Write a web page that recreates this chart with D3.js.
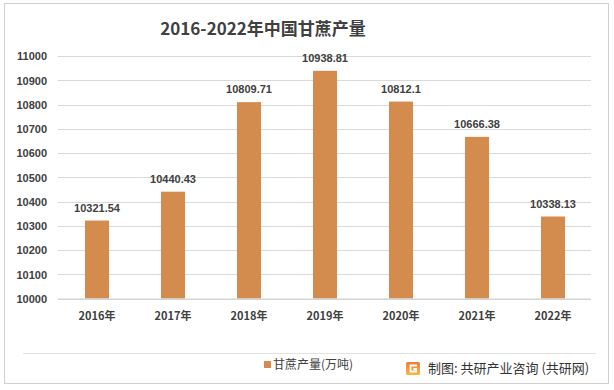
<!DOCTYPE html>
<html><head><meta charset="utf-8">
<script src="https://cdn.jsdelivr.net/npm/d3@7"></script>
<style>
html,body{margin:0;padding:0;background:#fff;}
svg{display:block;}
</style></head>
<body>
<svg id="chart" width="614" height="390"></svg>
<script>
const titleText = "2016-2022年中国甘蔗产量";
const categories = ["2016年","2017年","2018年","2019年","2020年","2021年","2022年"];
const values = [10321.54, 10440.43, 10809.71, 10938.81, 10812.1, 10666.38, 10338.13];
const valueLabels = ["10321.54","10440.43","10809.71","10938.81","10812.1","10666.38","10338.13"];
const yTicks = [10000,10100,10200,10300,10400,10500,10600,10700,10800,10900,11000];
const seriesName = "甘蔗产量(万吨)";
const sourceText = "制图: 共研产业咨询 (共研网)";

const svg = d3.select("#chart");
const numFont = "'Liberation Sans', 'Noto Sans CJK SC', sans-serif";
const cjkFont = "'Noto Sans CJK SC', 'Liberation Sans', sans-serif";
const barColor = "#D48B4E";
const textColor = "#404040";

// outer border
svg.append("rect").attr("x",4.5).attr("y",3.5).attr("width",604).attr("height",380)
  .attr("fill","#fff").attr("stroke","#d0d0d0").attr("stroke-width",1);

const x = d3.scaleBand().domain(categories).range([59,591]).paddingInner(0.684).paddingOuter(0.342);
const y = d3.scaleLinear().domain([10000,11000]).range([298.5,56]);

// gridlines
svg.append("g").selectAll("line").data(yTicks).join("line")
  .attr("x1",58).attr("x2",591)
  .attr("y1",d=>Math.round(y(d))+0.5).attr("y2",d=>Math.round(y(d))+0.5)
  .attr("stroke","#d9d9d9").attr("stroke-width",1);

// y axis labels
const yAxis = d3.axisLeft(y).tickValues(yTicks).tickSize(0).tickPadding(0).tickFormat(d3.format("d"));
const yg = svg.append("g").attr("transform","translate(47,0)").call(yAxis);
yg.select(".domain").remove();
yg.selectAll("text").attr("font-family",numFont).attr("font-size",11).attr("font-weight","bold")
  .attr("fill",textColor).attr("dy","0.35em");

// bars
svg.append("g").selectAll("rect").data(values).join("rect")
  .attr("x",(d,i)=>x(categories[i]))
  .attr("width",x.bandwidth())
  .attr("y",d=>y(d))
  .attr("height",d=>y(10000)-y(d))
  .attr("fill",barColor);

// value labels
svg.append("g").selectAll("text").data(values).join("text")
  .attr("x",(d,i)=>x(categories[i])+x.bandwidth()/2)
  .attr("y",d=>y(d)-9)
  .attr("text-anchor","middle")
  .attr("font-family",numFont).attr("font-size",11).attr("font-weight","bold")
  .attr("fill",textColor)
  .text((d,i)=>valueLabels[i]);

// x axis
const xAxis = d3.axisBottom(x).tickSize(0).tickPadding(14);
const xg = svg.append("g").attr("transform",`translate(0,${y(10000)})`).call(xAxis);
xg.select(".domain").attr("stroke","#d0d0d0").attr("d","M58,0.5H591");
xg.selectAll("text").attr("font-family",cjkFont).attr("font-size",11).attr("font-weight","bold")
  .attr("fill",textColor);

// title
svg.append("text").attr("x",263).attr("y",35).attr("text-anchor","middle")
  .attr("font-family",cjkFont).attr("font-size",17).attr("font-weight","bold")
  .attr("fill","#404040").text(titleText);

// separator
svg.append("line").attr("x1",23).attr("x2",596).attr("y1",353.5).attr("y2",353.5)
  .attr("stroke","#e3e3e3").attr("stroke-width",1);

// legend
svg.append("rect").attr("x",264).attr("y",361).attr("width",7).attr("height",7).attr("fill",barColor);
svg.append("text").attr("x",273).attr("y",369).attr("font-family",cjkFont).attr("font-size",12)
  .attr("fill",textColor).text(seriesName);

// logo
const defs = svg.append("defs");
const gr = defs.append("linearGradient").attr("id","lg").attr("x1","0").attr("y1","0").attr("x2","0").attr("y2","1");
gr.append("stop").attr("offset","0").attr("stop-color","#F27A3A");
gr.append("stop").attr("offset","1").attr("stop-color","#F7B945");
const logo = svg.append("g").attr("transform","translate(406,362)");
logo.append("rect").attr("width",14).attr("height",13).attr("rx",1.5).attr("fill","url(#lg)");
logo.append("path").attr("d","M11,3.5H4.5V9.5H10V7H7.5").attr("fill","none").attr("stroke","#fff").attr("stroke-width",1.8);

svg.append("text").attr("x",428).attr("y",373).attr("font-family",cjkFont).attr("font-size",13)
  .attr("fill","#333").text(sourceText);
</script>
</body></html>
